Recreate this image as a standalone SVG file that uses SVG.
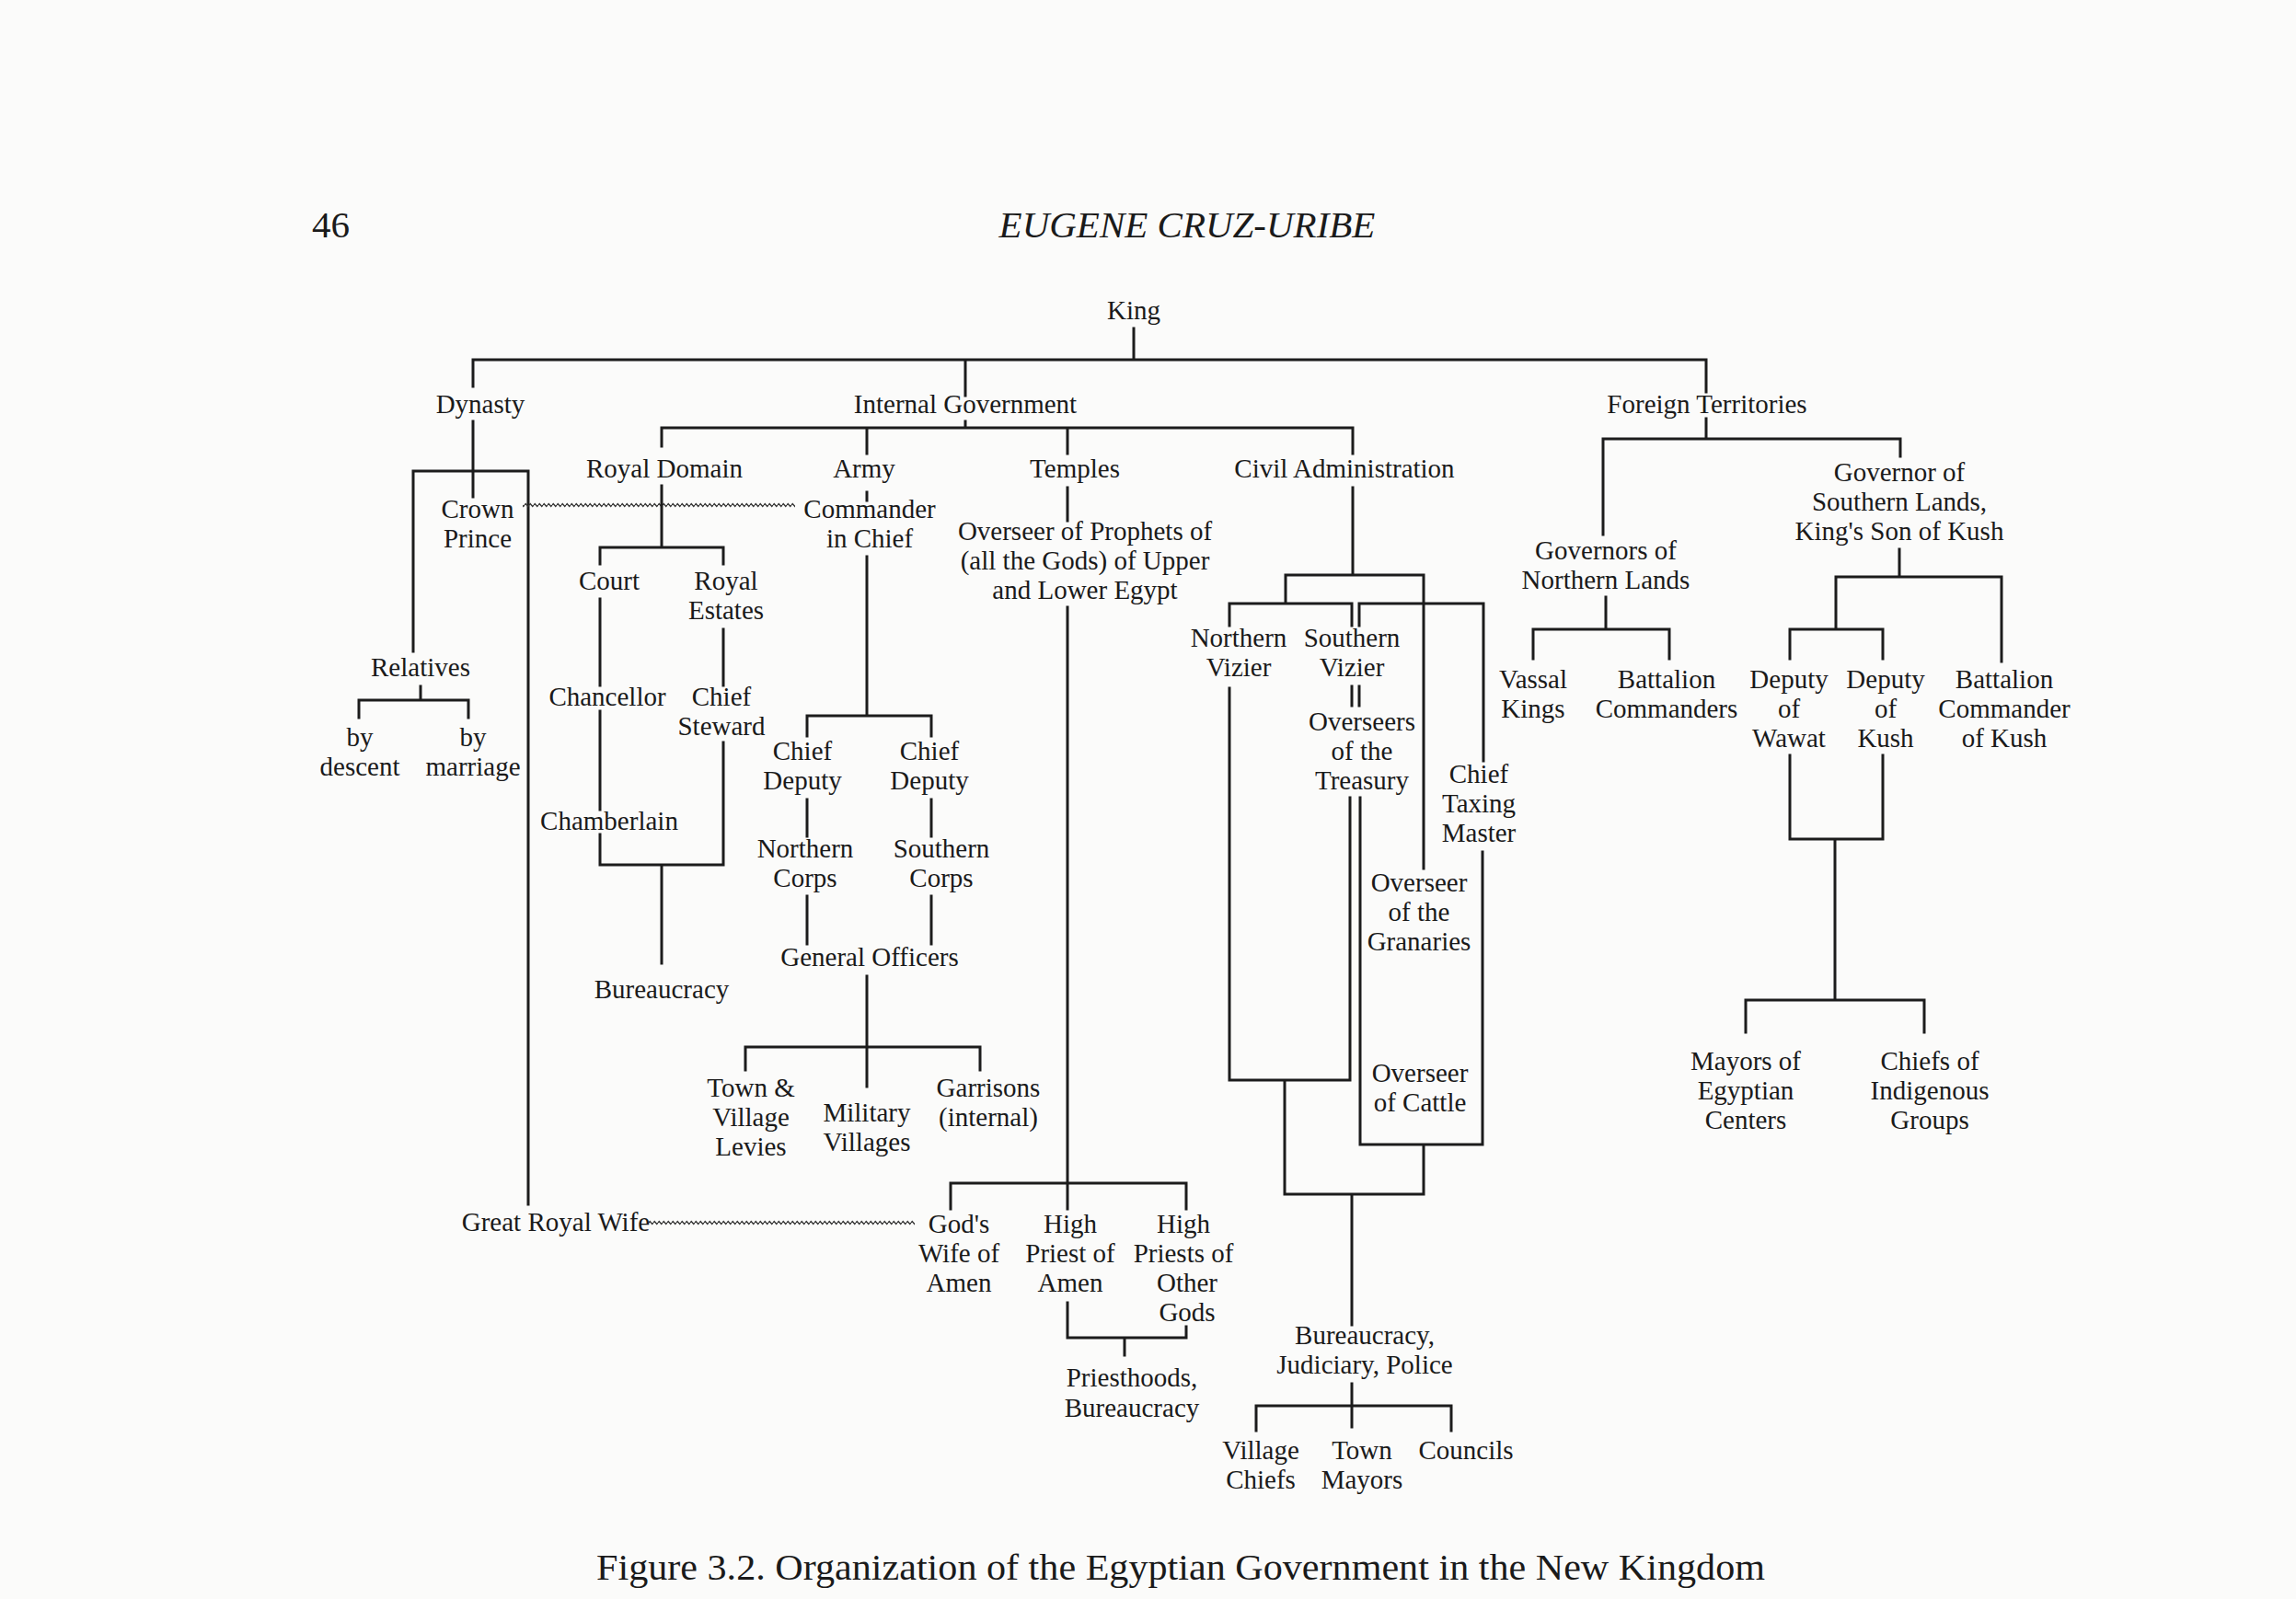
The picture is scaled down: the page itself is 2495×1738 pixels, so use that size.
<svg xmlns="http://www.w3.org/2000/svg" width="2495" height="1738" viewBox="0 0 2495 1738">
<defs>
<style>
.t{font-family:"Liberation Serif","Times New Roman",serif;font-size:29px;fill:#1a1a1a;text-anchor:middle}
.h{font-family:"Liberation Serif","Times New Roman",serif;font-size:41px;fill:#1a1a1a}
.c{fill:none;stroke:#1c1c1c;stroke-width:3;stroke-linecap:square}
</style>
<pattern id="wave" width="5" height="6" patternUnits="userSpaceOnUse">
<path d="M0,3 L1.25,1.5 L2.5,3 L3.75,4.5 L5,3" fill="none" stroke="#333" stroke-width="1.3"/>
</pattern>
</defs>
<rect width="2495" height="1738" fill="#fbfbfa"/>

<g id="header">
<text class="h" x="339" y="258">46</text>
<text class="h" x="1290" y="258" text-anchor="middle" font-style="italic">EUGENE CRUZ-URIBE</text>
</g>

<g id="connectors">
<path class="c" d="M1232,357 V391 M514,391 H1854 M514,391 V420 M1049,391 V430 M1854,391 V426"/>
<path class="c" d="M514,458 V540 M449,708 V512 H574 V1309"/>
<path class="c" d="M457,746 V761 M390,780 V761 H509 V780"/>
<rect x="568" y="546" width="296" height="6" fill="url(#wave)"/>
<rect x="705" y="1326" width="289" height="6" fill="url(#wave)"/>
<path class="c" d="M1049,458 V465 M719,485 V465 H1470 V493 M942,465 V493 M1160,465 V493"/>
<path class="c" d="M719,528 V595 M652,613 V595 H786 V613 M652,651 V745 M652,773 V880 M652,907 V940 H786 V807 M786,684 V745 M719,940 V1047"/>
<path class="c" d="M942,535 V544 M942,605 V778 M877,800 V778 H1012 V800 M877,869 V909 M1012,869 V909 M877,974 V1026 M1012,974 V1026 M942,1061 V1181 M810,1163 V1138 H1065 V1163"/>
<path class="c" d="M1160,530 V566 M1160,660 V1314 M1033,1314 V1286 H1289 V1314 M1160,1416 V1454 H1289 V1442 M1222,1454 V1473"/>
<path class="c" d="M1470,530 V625 M1397,656 V625 H1547 V944 M1336,680 V656 H1469 V680 M1477,680 V656 H1612 V827 M1469,746 V767 M1477,746 V767 M1336,748 V1174 H1467 V867 M1478,867 V1244 H1611 V926 M1396,1174 V1298 H1547 V1244 M1469,1298 V1440"/>
<path class="c" d="M1469,1504 V1551 M1365,1555 V1528 H1577 V1555"/>
<path class="c" d="M1854,455 V477 M1742,581 V477 H2065 V496 M1745,649 V684 M1666,716 V684 H1814 V716 M2064,597 V627 M1995,684 V627 H2175 V719 M1945,716 V684 H2046 V716 M1945,821 V912 H2046 V821 M1994,912 V1087 M1897,1122 V1087 H2091 V1122"/>
</g>

<g id="king"><text class="t" x="1232" y="347">King</text></g>
<g id="dynasty"><text class="t" x="522" y="449">Dynasty</text></g>
<g id="internal-government"><text class="t" x="1049" y="449">Internal Government</text></g>
<g id="foreign-territories"><text class="t" x="1855" y="449">Foreign Territories</text></g>

<g id="crown-prince"><text class="t" x="519" y="563">Crown<tspan x="519" dy="32">Prince</tspan></text></g>
<g id="relatives"><text class="t" x="457" y="735">Relatives</text></g>
<g id="by-descent"><text class="t" x="391" y="811">by<tspan x="391" dy="32">descent</tspan></text></g>
<g id="by-marriage"><text class="t" x="514" y="811">by<tspan x="514" dy="32">marriage</tspan></text></g>
<g id="great-royal-wife"><text class="t" x="604" y="1338">Great Royal Wife</text></g>

<g id="royal-domain"><text class="t" x="722" y="519">Royal Domain</text></g>
<g id="court"><text class="t" x="662" y="641">Court</text></g>
<g id="royal-estates"><text class="t" x="789" y="641">Royal<tspan x="789" dy="32">Estates</tspan></text></g>
<g id="chancellor"><text class="t" x="660" y="767">Chancellor</text></g>
<g id="chief-steward"><text class="t" x="784" y="767">Chief<tspan x="784" dy="32">Steward</tspan></text></g>
<g id="chamberlain"><text class="t" x="662" y="902">Chamberlain</text></g>
<g id="bureaucracy"><text class="t" x="719" y="1085">Bureaucracy</text></g>

<g id="army"><text class="t" x="939" y="519">Army</text></g>
<g id="commander"><text class="t" x="945" y="563">Commander<tspan x="945" dy="32">in Chief</tspan></text></g>
<g id="chief-deputy-n"><text class="t" x="872" y="826">Chief<tspan x="872" dy="32">Deputy</tspan></text></g>
<g id="chief-deputy-s"><text class="t" x="1010" y="826">Chief<tspan x="1010" dy="32">Deputy</tspan></text></g>
<g id="northern-corps"><text class="t" x="875" y="932">Northern<tspan x="875" dy="32">Corps</tspan></text></g>
<g id="southern-corps"><text class="t" x="1023" y="932">Southern<tspan x="1023" dy="32">Corps</tspan></text></g>
<g id="general-officers"><text class="t" x="945" y="1050">General Officers</text></g>
<g id="levies"><text class="t" x="816" y="1192">Town &amp;<tspan x="816" dy="32">Village</tspan><tspan x="816" dy="32">Levies</tspan></text></g>
<g id="military-villages"><text class="t" x="942" y="1219">Military<tspan x="942" dy="32">Villages</tspan></text></g>
<g id="garrisons"><text class="t" x="1074" y="1192">Garrisons<tspan x="1074" dy="32">(internal)</tspan></text></g>

<g id="temples"><text class="t" x="1168" y="519">Temples</text></g>
<g id="overseer-prophets"><text class="t" x="1179" y="587">Overseer of Prophets of<tspan x="1179" dy="32">(all the Gods) of Upper</tspan><tspan x="1179" dy="32">and Lower Egypt</tspan></text></g>
<g id="gods-wife"><text class="t" x="1042" y="1340">God's<tspan x="1042" dy="32">Wife of</tspan><tspan x="1042" dy="32">Amen</tspan></text></g>
<g id="high-priest-amen"><text class="t" x="1163" y="1340">High<tspan x="1163" dy="32">Priest of</tspan><tspan x="1163" dy="32">Amen</tspan></text></g>
<g id="high-priests-other"><text class="t" x="1286" y="1340">High<tspan x="1286" dy="32">Priests of</tspan><tspan x="1290" dy="32">Other</tspan><tspan x="1290" dy="32">Gods</tspan></text></g>
<g id="priesthoods"><text class="t" x="1230" y="1507">Priesthoods,<tspan x="1230" dy="33">Bureaucracy</tspan></text></g>

<g id="civil-administration"><text class="t" x="1461" y="519">Civil Administration</text></g>
<g id="northern-vizier"><text class="t" x="1346" y="703">Northern<tspan x="1346" dy="32">Vizier</tspan></text></g>
<g id="southern-vizier"><text class="t" x="1469" y="703">Southern<tspan x="1469" dy="32">Vizier</tspan></text></g>
<g id="treasury"><text class="t" x="1480" y="794">Overseers<tspan x="1480" dy="32">of the</tspan><tspan x="1480" dy="32">Treasury</tspan></text></g>
<g id="chief-taxing"><text class="t" x="1607" y="851">Chief<tspan x="1607" dy="32">Taxing</tspan><tspan x="1607" dy="32">Master</tspan></text></g>
<g id="granaries"><text class="t" x="1542" y="969">Overseer<tspan x="1542" dy="32">of the</tspan><tspan x="1542" dy="32">Granaries</tspan></text></g>
<g id="cattle"><text class="t" x="1543" y="1176">Overseer<tspan x="1543" dy="32">of Cattle</tspan></text></g>
<g id="bureaucracy-judiciary"><text class="t" x="1483" y="1461">Bureaucracy,<tspan x="1483" dy="32">Judiciary, Police</tspan></text></g>
<g id="village-chiefs"><text class="t" x="1370" y="1586">Village<tspan x="1370" dy="32">Chiefs</tspan></text></g>
<g id="town-mayors"><text class="t" x="1480" y="1586">Town<tspan x="1480" dy="32">Mayors</tspan></text></g>
<g id="councils"><text class="t" x="1593" y="1586">Councils</text></g>

<g id="governor-southern"><text class="t" x="2064" y="523">Governor of<tspan x="2064" dy="32">Southern Lands,</tspan><tspan x="2064" dy="32">King's Son of Kush</tspan></text></g>
<g id="governors-northern"><text class="t" x="1745" y="608">Governors of<tspan x="1745" dy="32">Northern Lands</tspan></text></g>
<g id="vassal-kings"><text class="t" x="1666" y="748">Vassal<tspan x="1666" dy="32">Kings</tspan></text></g>
<g id="battalion-commanders"><text class="t" x="1811" y="748">Battalion<tspan x="1811" dy="32">Commanders</tspan></text></g>
<g id="deputy-wawat"><text class="t" x="1944" y="748">Deputy<tspan x="1944" dy="32">of</tspan><tspan x="1944" dy="32">Wawat</tspan></text></g>
<g id="deputy-kush"><text class="t" x="2049" y="748">Deputy<tspan x="2049" dy="32">of</tspan><tspan x="2049" dy="32">Kush</tspan></text></g>
<g id="battalion-commander-kush"><text class="t" x="2178" y="748">Battalion<tspan x="2178" dy="32">Commander</tspan><tspan x="2178" dy="32">of Kush</tspan></text></g>
<g id="mayors"><text class="t" x="1897" y="1163">Mayors of<tspan x="1897" dy="32">Egyptian</tspan><tspan x="1897" dy="32">Centers</tspan></text></g>
<g id="chiefs-indigenous"><text class="t" x="2097" y="1163">Chiefs of<tspan x="2097" dy="32">Indigenous</tspan><tspan x="2097" dy="32">Groups</tspan></text></g>

<g id="caption"><text class="h" x="1283" y="1717" text-anchor="middle" font-size="42" textLength="1270" lengthAdjust="spacingAndGlyphs">Figure 3.2. Organization of the Egyptian Government in the New Kingdom</text></g>
</svg>
